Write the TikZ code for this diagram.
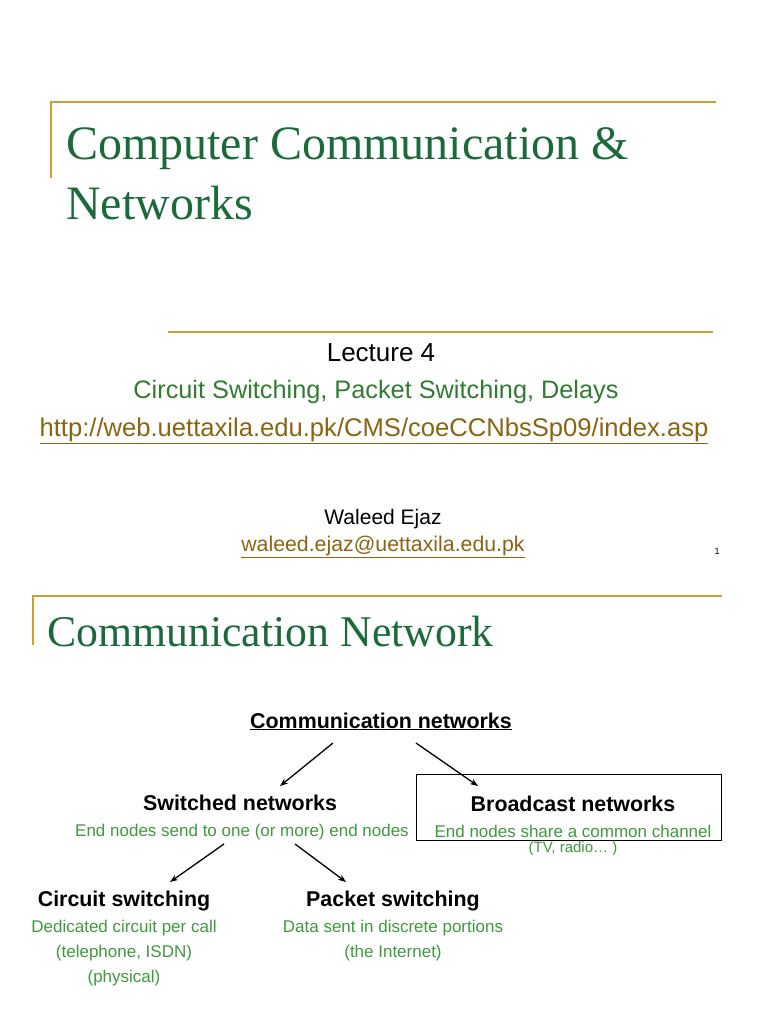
\documentclass[tikz,border=0pt]{standalone}
\usepackage{fontspec}
\setmainfont{Liberation Serif}
\setsansfont{Liberation Sans}
\usetikzlibrary{arrows.meta}
\definecolor{tgreen}{HTML}{1B6B3A}
\definecolor{lgreen}{HTML}{3E9A3E}
\definecolor{gold}{HTML}{CCA030}
\definecolor{url}{HTML}{8A6410}
\tikzset{
 gl/.style={draw=gold,line width=1.5pt},
 ttl/.style={text=tgreen,anchor=base west,inner sep=0,font=\fontsize{48}{48}\selectfont},
 sf/.style={font=\sffamily\fontsize{#1}{#1}\selectfont,inner sep=0,anchor=base},
 hd/.style={font=\sffamily\bfseries\fontsize{21.4}{21.4}\selectfont,inner sep=0,anchor=base},
 gt/.style={font=\sffamily\fontsize{17}{17}\selectfont,text=lgreen,inner sep=0,anchor=base},
 arr/.style={-{Stealth[length=8pt,width=6pt]},line width=1.3pt}
}
\begin{document}
\begin{tikzpicture}[x=1pt,y=-1pt]
\useasboundingbox (0,0) rectangle (768,1024);
\draw[gl] (716,102) -- (51,102) -- (51,178);
\node[ttl] (t1) at (66,160) {Computer Communication \&};
\node[ttl] (t2) at (66,219) {Networks};
\draw[gl] (168,332) -- (713,332);
\node[sf=26] (lec) at (381,361) {Lecture 4};
\node[sf=25.3,text=lgreen!80!black] (sub) at (376,398) {Circuit Switching, Packet Switching, Delays};
\node[sf=25.6,text=url] (u) at (374,436) {\underline{http://web.uettaxila.edu.pk/CMS/coeCCNbsSp09/index.asp}};
\node[sf=21] (au) at (383,524) {Waleed Ejaz};
\node[sf=21.3,text=url] (em) at (383,551) {\underline{waleed.ejaz@uettaxila.edu.pk}};
\node[sf=9] (pg) at (717,554) {1};
\draw[gl] (722,596) -- (33,596) -- (33,645);
\node[ttl,font=\fontsize{43.8}{43.8}\selectfont] (t3) at (47,646) {Communication Network};
\node[hd] (cn) at (381,728) {\underline{Communication networks}};
\node[hd] (sw) at (240,810) {Switched networks};
\node[gt] (swd) at (242,836) {End nodes send to one (or more) end nodes};
\node[draw,line width=0.8pt,minimum width=305pt,minimum height=66pt,anchor=north west] (bbox) at (416,774) {};
\node[hd] (bc) at (573,811) {Broadcast networks};
\node[gt] (bcd) at (573,837) {End nodes share a common channel};
\node[gt,font=\sffamily\fontsize{15}{15}\selectfont] (bce) at (573,852) {(TV, radio\dots\ )};
\node[hd] (cs) at (124,906) {Circuit switching};
\node[hd] (ps) at (393,906) {Packet switching};
\node[gt] (cs1) at (124,932) {Dedicated circuit per call};
\node[gt] (cs2) at (124,957) {(telephone, ISDN)};
\node[gt] (cs3) at (124,982) {(physical)};
\node[gt] (ps1) at (393,932) {Data sent in discrete portions};
\node[gt] (ps2) at (393,957) {(the Internet)};
\coordinate (a1) at (333,743); \coordinate (a2) at (280,786);
\coordinate (b1) at (416,743); \coordinate (b2) at (478,786);
\coordinate (c1) at (224,844); \coordinate (c2) at (170,882);
\coordinate (d1) at (295,844); \coordinate (d2) at (346,882);
\draw[arr] (a1) -- (a2);
\draw[arr] (b1) -- (b2);
\draw[arr] (c1) -- (c2);
\draw[arr] (d1) -- (d2);
\end{tikzpicture}
\end{document}
